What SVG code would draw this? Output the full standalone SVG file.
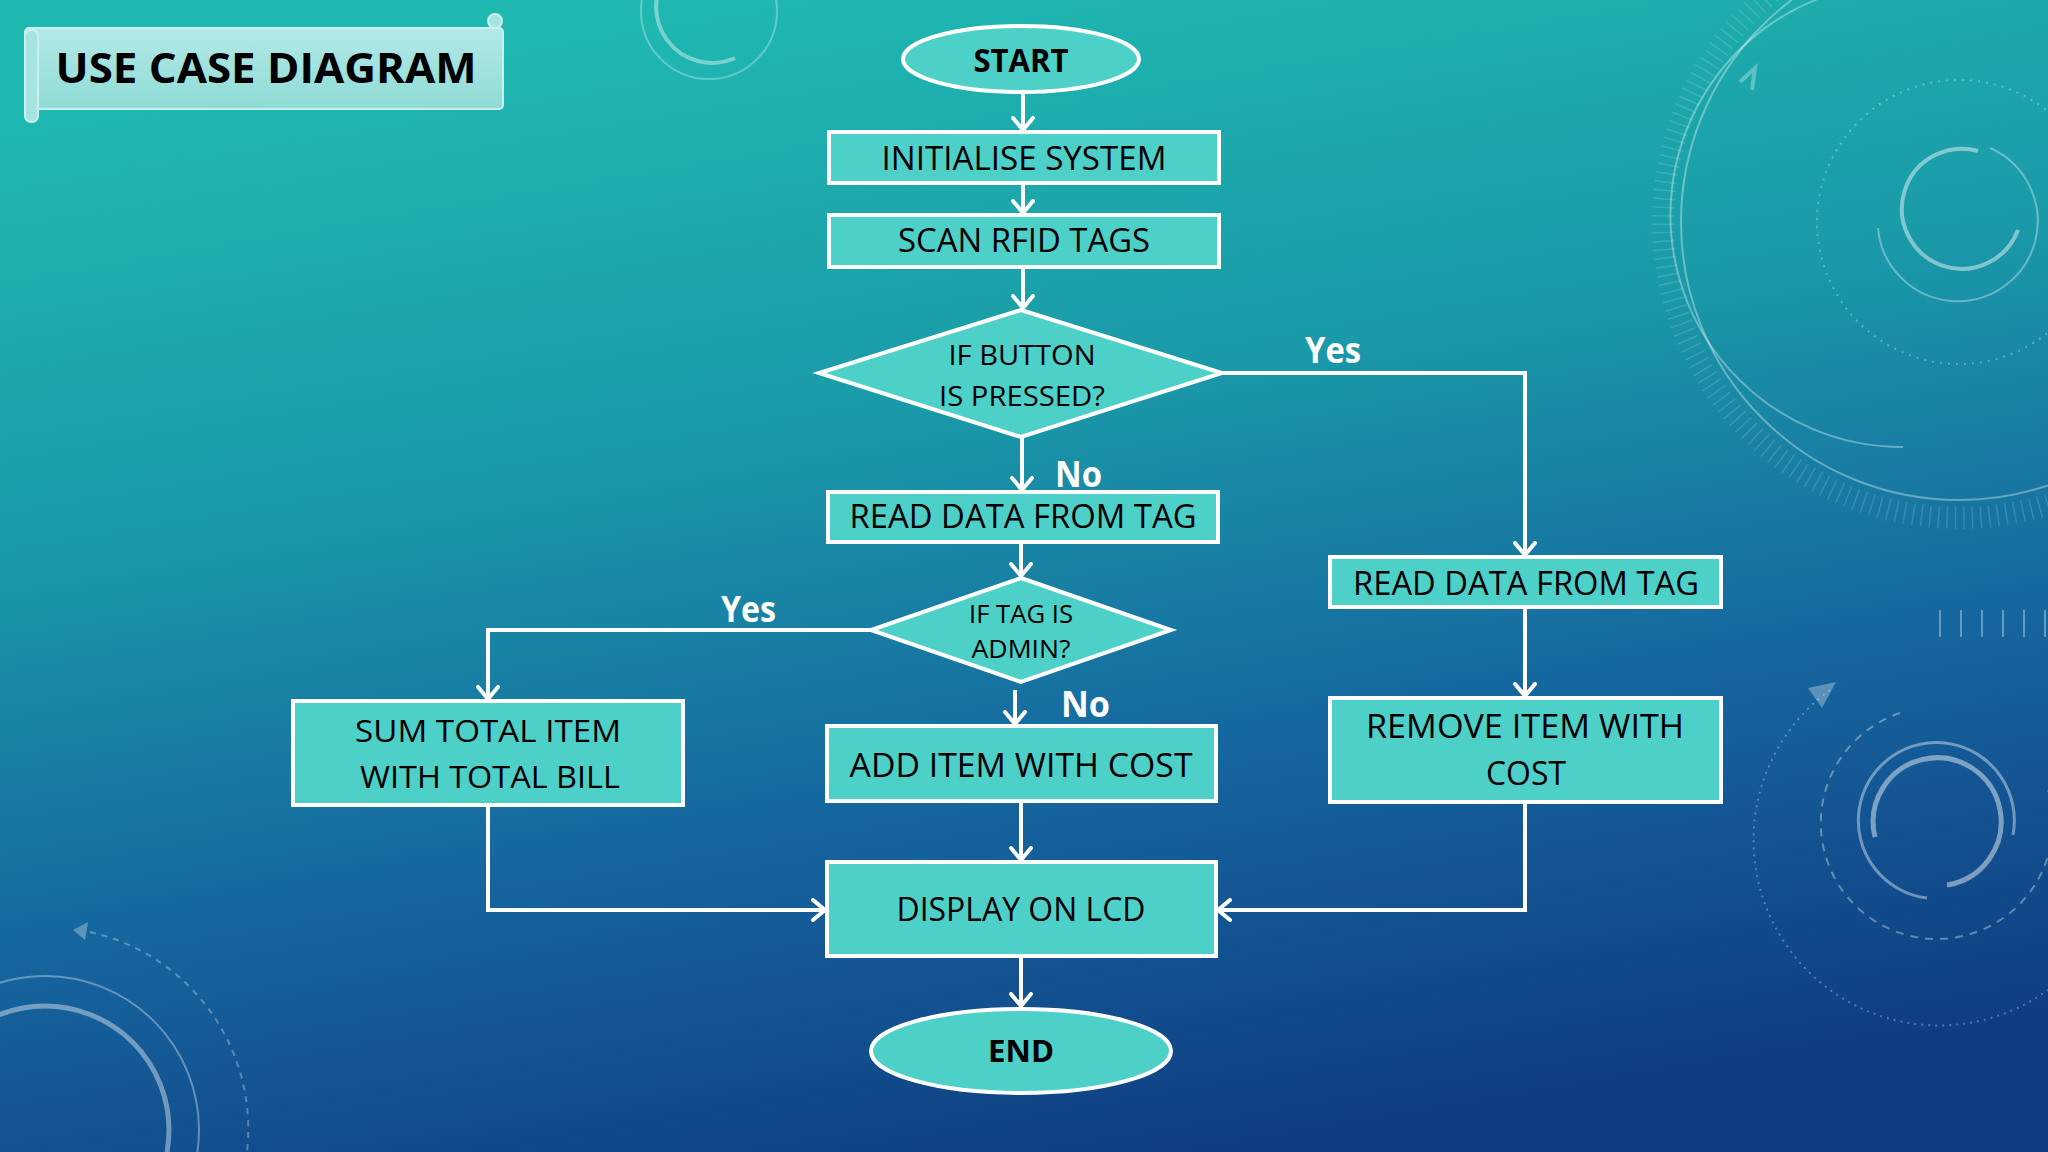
<svg xmlns="http://www.w3.org/2000/svg" width="2048" height="1152" viewBox="0 0 2048 1152">
  <defs>
    <linearGradient id="bg" x1="0.35" y1="0" x2="0.65" y2="1">
      <stop offset="0" stop-color="#1fb8b1"/>
      <stop offset="0.35" stop-color="#1a9aa8"/>
      <stop offset="0.65" stop-color="#1668a0"/>
      <stop offset="1" stop-color="#0f3b80"/>
    </linearGradient>
    <linearGradient id="banner" x1="0" y1="0" x2="0" y2="1">
      <stop offset="0" stop-color="#b3e9e6"/>
      <stop offset="1" stop-color="#8fdbd6"/>
    </linearGradient>
    <marker id="arr" viewBox="-2 -12 16 24" refX="12" refY="0" markerWidth="16" markerHeight="24" markerUnits="userSpaceOnUse" orient="auto">
      <path d="M0,-10 L12,0 L0,10" fill="none" stroke="#ffffff" stroke-width="4" stroke-linecap="round" stroke-linejoin="round"/>
    </marker>
    <style>
      .node { fill: #4dd0c8; stroke: #ffffff; stroke-width: 4; }
      .lbl { font-family: "Open Sans", "Liberation Sans", sans-serif; fill: #000000; text-anchor: middle; }
      .bold { font-weight: bold; }
      .edge { fill: none; stroke: #ffffff; stroke-width: 4; marker-end: url(#arr); }
      .elbl { font-family: "Open Sans", "Liberation Sans", sans-serif; font-weight: bold; fill: #ffffff; font-size: 36px; }
      .deco { fill: none; stroke: #ffffff; }
    </style>
  </defs>

  <!-- background -->
  <rect x="0" y="0" width="2048" height="1152" fill="url(#bg)"/>

  <!-- decorative background arcs -->
  <g id="decor" class="deco">
    <!-- top-right dial -->
    <circle cx="1959" cy="222" r="278" stroke-opacity="0.35" stroke-width="2"/>
    <circle cx="1959" cy="222" r="296" stroke-opacity="0.15" stroke-width="22" stroke-dasharray="1.5 7"/>
    <path d="M1959,-10 A232,232 0 1 0 1903,447" stroke-opacity="0.35" stroke-width="2"/>
    <circle cx="1959" cy="222" r="142" stroke-opacity="0.3" stroke-width="2" stroke-dasharray="2 6"/>
    <path d="M1978,151 A60,60 0 1 0 2018,230" stroke-opacity="0.45" stroke-width="4"/>
    <path d="M1878,228 A80,80 0 1 0 1990,148" stroke-opacity="0.35" stroke-width="2"/>
    <path d="M1965,70 A78,78 0 1 1 1882,228" stroke-opacity="0" stroke-width="2"/>
    <path d="M1740,82 L1755,68 L1752,90" stroke-opacity="0.3" stroke-width="4"/>
    <!-- top small circle -->
    <circle cx="709" cy="11" r="68" stroke-opacity="0.3" stroke-width="2"/>
    <path d="M670,-30 A56,56 0 0 0 735,58" stroke-opacity="0.4" stroke-width="4"/>
    <!-- bottom-right circles -->
    <path d="M1927,898 A78,78 0 1 1 2013,835" stroke-opacity="0.4" stroke-width="3"/>
    <path d="M1875,837 A64,64 0 1 1 1947,885" stroke-opacity="0.45" stroke-width="5"/>
    <path d="M1900,713 A116,116 0 1 0 2048,790" stroke-opacity="0.35" stroke-width="2" stroke-dasharray="8 7"/>
    <path d="M1830,690 A169,169 0 1 0 2048,990" stroke-opacity="0.3" stroke-width="2" stroke-dasharray="2 5"/>
    <path d="M1808,688 L1836,682 L1822,708 Z" fill="#ffffff" fill-opacity="0.3" stroke="none"/>
    <path d="M1940,610 V637 M1961,610 V637 M1982,610 V637 M2003,610 V637 M2024,610 V637 M2045,610 V637" stroke-opacity="0.35" stroke-width="2"/>
    <!-- bottom-left circles -->
    <circle cx="45" cy="1130" r="154" stroke-opacity="0.35" stroke-width="2"/>
    <circle cx="45" cy="1130" r="124" stroke-opacity="0.4" stroke-width="5"/>
    <path d="M90,932 A202,202 0 0 1 247,1152" stroke-opacity="0.3" stroke-width="2" stroke-dasharray="6 6"/>
    <path d="M73,930 L88,922 L85,940 Z" fill="#ffffff" fill-opacity="0.3" stroke="none"/>
  </g>

  <!-- title banner -->
  <g id="title">
    <rect x="25" y="28" width="478" height="81" rx="4" fill="url(#banner)" stroke="#c8f0ee" stroke-width="2"/>
    <rect x="25" y="30" width="13" height="92" rx="6" fill="#a6e4e1" stroke="#c8f0ee" stroke-width="2"/>
    <circle cx="495" cy="21" r="7" fill="#a6e4e1" stroke="#c8f0ee" stroke-width="2"/>
    <text x="266" y="83" class="lbl bold" font-size="42" textLength="421" lengthAdjust="spacingAndGlyphs">USE CASE DIAGRAM</text>
  </g>

  <!-- connectors -->
  <g id="connectors">
    <path class="edge" d="M1023,93 V130"/>
    <path class="edge" d="M1023,183 V213"/>
    <path class="edge" d="M1023,267 V308"/>
    <path class="edge" d="M1022,437 V490"/>
    <path class="edge" d="M1021,542 V576"/>
    <path class="edge" d="M1222,373 H1525 V555"/>
    <path class="edge" d="M871,630 H488 V699"/>
    <path class="edge" d="M1015,690 V724"/>
    <path class="edge" d="M1525,607 V696"/>
    <path class="edge" d="M488,805 V910 H825"/>
    <path class="edge" d="M1021,801 V860"/>
    <path class="edge" d="M1525,802 V910 H1218"/>
    <path class="edge" d="M1021,956 V1006"/>
    <text class="elbl" x="1055" y="487" textLength="47" lengthAdjust="spacingAndGlyphs">No</text>
    <text class="elbl" x="1305" y="363" textLength="56" lengthAdjust="spacingAndGlyphs">Yes</text>
    <text class="elbl" x="721" y="622" textLength="55" lengthAdjust="spacingAndGlyphs">Yes</text>
    <text class="elbl" x="1061" y="717" textLength="49" lengthAdjust="spacingAndGlyphs">No</text>
  </g>

  <!-- nodes -->
  <g id="start">
    <ellipse class="node" cx="1021" cy="59" rx="118" ry="33"/>
    <text class="lbl bold" x="1021" y="72" font-size="32" textLength="95" lengthAdjust="spacingAndGlyphs">START</text>
  </g>
  <g id="init">
    <rect class="node" x="829" y="132" width="390" height="51"/>
    <text class="lbl" x="1024" y="170" font-size="32" textLength="285" lengthAdjust="spacingAndGlyphs">INITIALISE SYSTEM</text>
  </g>
  <g id="scan">
    <rect class="node" x="829" y="215" width="390" height="52"/>
    <text class="lbl" x="1024" y="252" font-size="32" textLength="252" lengthAdjust="spacingAndGlyphs">SCAN RFID TAGS</text>
  </g>
  <g id="button">
    <polygon class="node" points="1021,310 1222,373 1021,437 819,373"/>
    <text class="lbl" x="1022" y="365" font-size="28" textLength="147" lengthAdjust="spacingAndGlyphs">IF BUTTON</text>
    <text class="lbl" x="1022" y="406" font-size="28" textLength="166" lengthAdjust="spacingAndGlyphs">IS PRESSED?</text>
  </g>
  <g id="read1">
    <rect class="node" x="828" y="492" width="390" height="50"/>
    <text class="lbl" x="1023" y="528" font-size="32" textLength="347" lengthAdjust="spacingAndGlyphs">READ DATA FROM TAG</text>
  </g>
  <g id="admin">
    <polygon class="node" points="1021,578 1171,630 1021,682 871,630"/>
    <text class="lbl" x="1021" y="623" font-size="25" textLength="104" lengthAdjust="spacingAndGlyphs">IF TAG IS</text>
    <text class="lbl" x="1021" y="658" font-size="25" textLength="99" lengthAdjust="spacingAndGlyphs">ADMIN?</text>
  </g>
  <g id="sum">
    <rect class="node" x="293" y="701" width="390" height="104"/>
    <text class="lbl" x="488" y="742" font-size="31" textLength="266" lengthAdjust="spacingAndGlyphs">SUM TOTAL ITEM</text>
    <text class="lbl" x="490" y="788" font-size="31" textLength="260" lengthAdjust="spacingAndGlyphs">WITH TOTAL BILL</text>
  </g>
  <g id="add">
    <rect class="node" x="827" y="726" width="389" height="75"/>
    <text class="lbl" x="1021" y="777" font-size="32" textLength="343" lengthAdjust="spacingAndGlyphs">ADD ITEM WITH COST</text>
  </g>
  <g id="read2">
    <rect class="node" x="1330" y="557" width="391" height="50"/>
    <text class="lbl" x="1526" y="595" font-size="32" textLength="346" lengthAdjust="spacingAndGlyphs">READ DATA FROM TAG</text>
  </g>
  <g id="remove">
    <rect class="node" x="1330" y="698" width="391" height="104"/>
    <text class="lbl" x="1525" y="738" font-size="32" textLength="318" lengthAdjust="spacingAndGlyphs">REMOVE ITEM WITH</text>
    <text class="lbl" x="1526" y="785" font-size="32" textLength="80" lengthAdjust="spacingAndGlyphs">COST</text>
  </g>
  <g id="display">
    <rect class="node" x="827" y="862" width="389" height="94"/>
    <text class="lbl" x="1021" y="921" font-size="32" textLength="249" lengthAdjust="spacingAndGlyphs">DISPLAY ON LCD</text>
  </g>
  <g id="end">
    <ellipse class="node" cx="1021" cy="1051" rx="150" ry="42"/>
    <text class="lbl bold" x="1021" y="1062" font-size="31" textLength="66" lengthAdjust="spacingAndGlyphs">END</text>
  </g>
</svg>
